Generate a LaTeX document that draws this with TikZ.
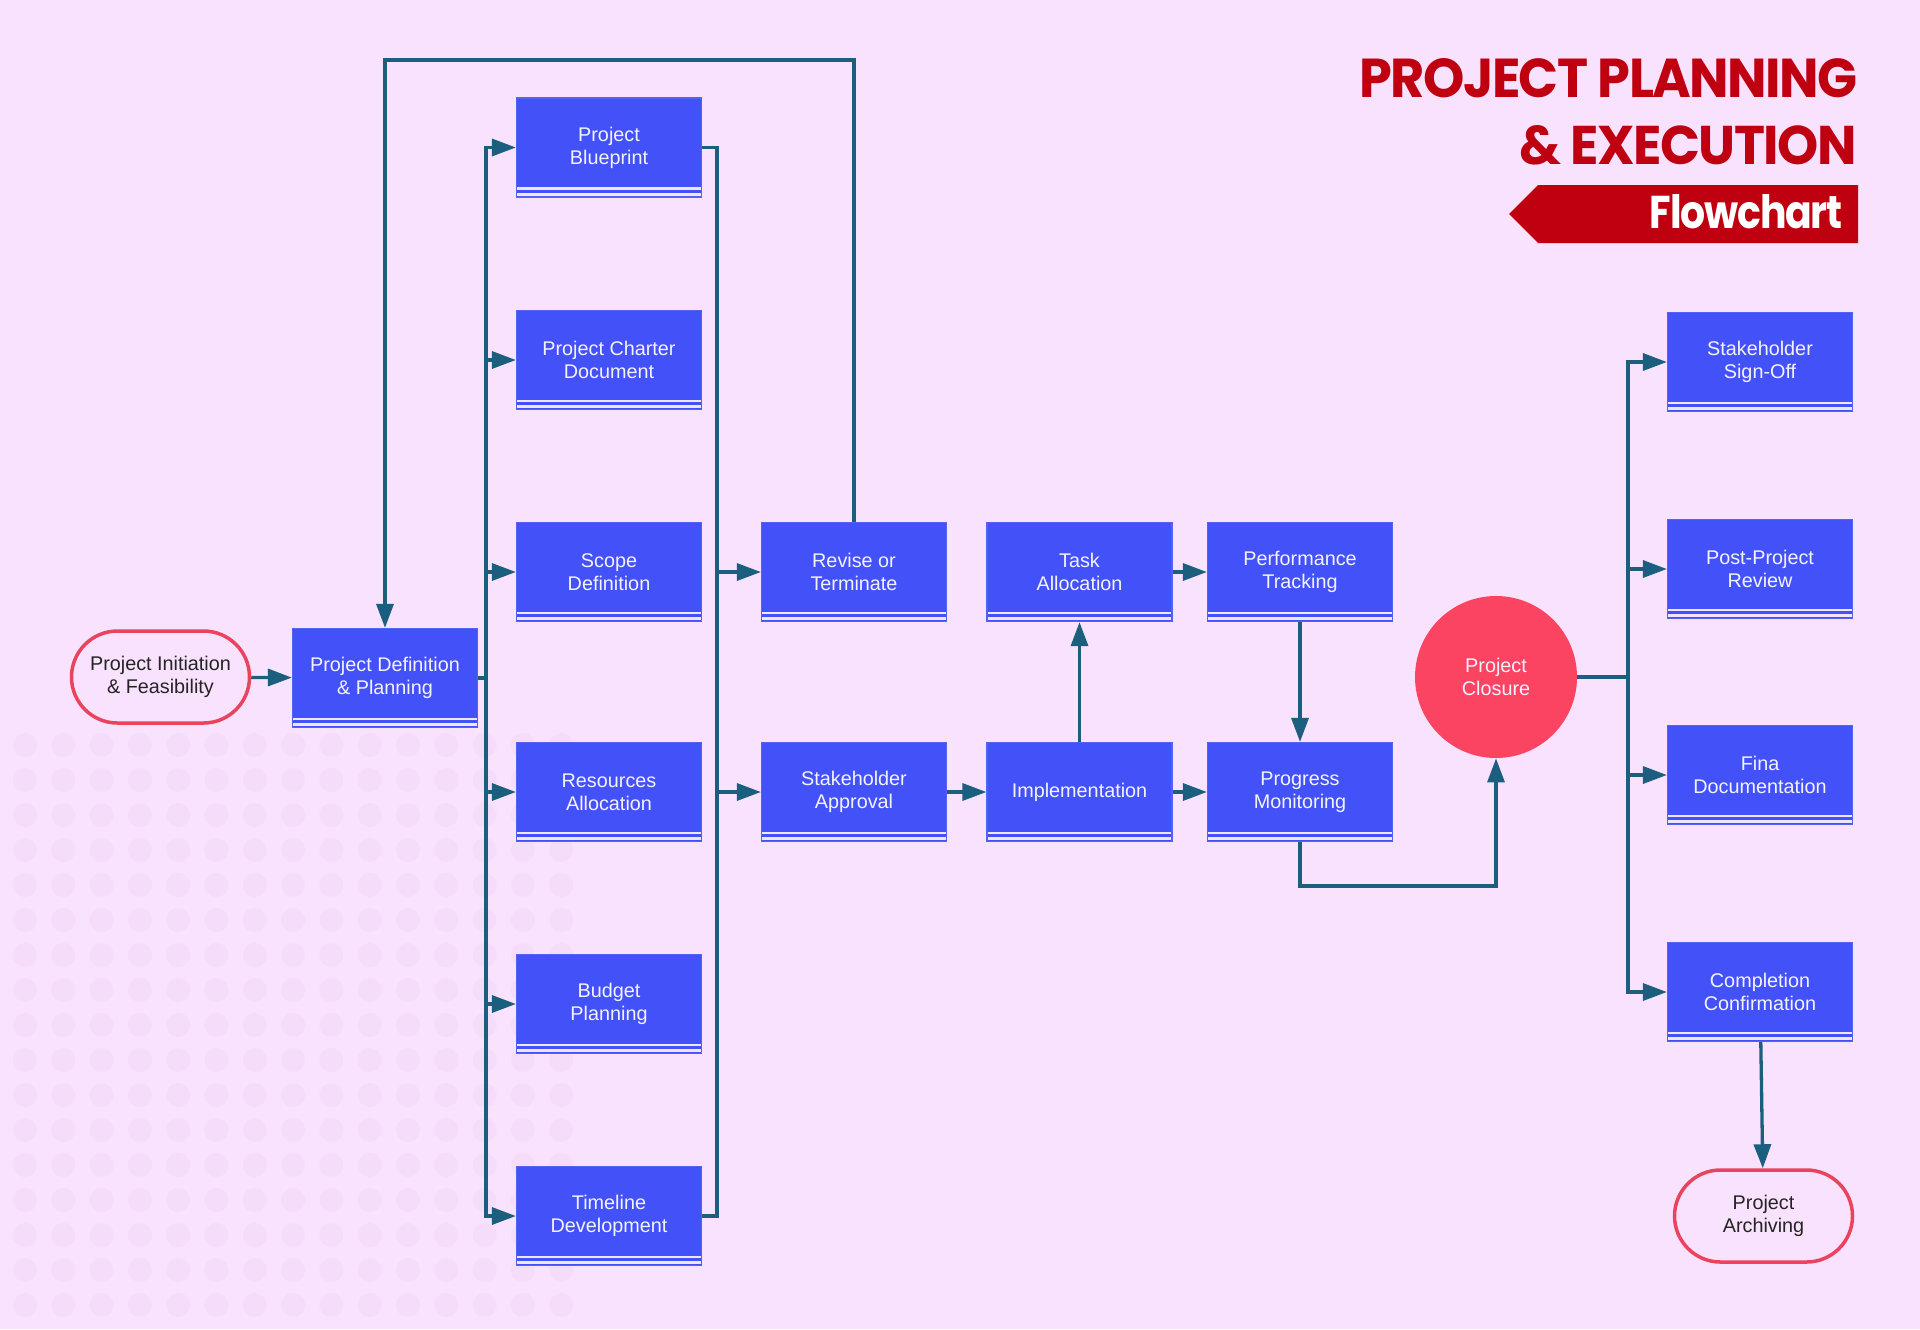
\documentclass[tikz,border=0pt]{standalone}
\usepackage{fontspec}
\usepackage{graphicx}
\setmainfont{Liberation Sans}
\newfontfamily\headfont{Poppins}[LetterSpace=-3]
\usetikzlibrary{arrows.meta,shapes.misc}

\definecolor{pagebg}{HTML}{F9E2FD}
\definecolor{dotpink}{HTML}{F6DCFB}
\definecolor{boxblue}{HTML}{4352F8}
\definecolor{boxedge}{HTML}{5462F2}
\definecolor{stripecol}{HTML}{EEE6FF}
\definecolor{boxtext}{HTML}{F4F2FF}
\definecolor{flowteal}{HTML}{1C5E7E}
\definecolor{pillred}{HTML}{E9435E}
\definecolor{closurered}{HTML}{FB4461}
\definecolor{titlered}{HTML}{BE0011}
\definecolor{darktext}{HTML}{242424}

\newcommand\boxfont{\fontsize{9.9}{11.4}\selectfont}

\tikzset{
  stripe/.style={draw=stripecol, line width=1.3pt},
  stepbox/.style={rectangle, draw=boxedge, line width=0.6pt, fill=boxblue,
    text=boxtext, minimum width=92.5pt, minimum height=49.5pt, inner sep=0pt,
    align=center, font=\boxfont,
    path picture={
      \draw[stripe] ([yshift=4.3pt]path picture bounding box.south west)
        -- ([yshift=4.3pt]path picture bounding box.south east);
      \draw[stripe] ([yshift=1.4pt]path picture bounding box.south west)
        -- ([yshift=1.4pt]path picture bounding box.south east);
    }},
  pill/.style={rounded rectangle, draw=pillred, line width=1.75pt, fill=pagebg,
    text=darktext, minimum width=89pt, minimum height=46pt, inner sep=0pt,
    align=center, font=\boxfont},
  hub/.style={circle, fill=closurered, text=boxtext, minimum size=81pt,
    inner sep=0pt, align=center, font=\boxfont},
  line/.style={draw=flowteal, line width=1.65pt},
  flow/.style={line, -{Triangle[length=12pt,width=8.5pt]}},
  headline/.style={anchor=base east, inner sep=0pt, text=titlered}
}

\begin{document}
\begin{tikzpicture}[x=0.5pt, y=-0.5pt]
  \fill[pagebg] (0,0) rectangle (1920,1329);
  \useasboundingbox (0,0) rectangle (1920,1329);
  % faint dot texture, lower left
  \foreach \i in {0,...,14}
    \foreach \j in {0,...,16}
      \fill[dotpink] (25+38.3*\i, 745+35*\j) circle[radius=6pt];

  % title
  \node[headline] (title1) at (1858,97)
    {\resizebox{249pt}{19.5pt}{\headfont\bfseries PROJECT PLANNING}};
  \node[headline] (title2) at (1857,164)
    {\resizebox{168.5pt}{19.5pt}{\headfont\bfseries \& EXECUTION}};
  \fill[titlered] (1509,214) -- (1538,185) -- (1858,185) -- (1858,243)
    -- (1538,243) -- cycle;
  \node[headline, text=white] (subtitle) at (1843,228)
    {\resizebox{96.5pt}{17pt}{\headfont\bfseries Flowchart}};

  % nodes
  \node[pill] (init) at (160.5,677) {Project Initiation\\\& Feasibility};
  \node[stepbox] (define) at (385,678) {Project Definition\\\& Planning};

  \node[stepbox] (blueprint) at (609,147.5) {Project\\Blueprint};
  \node[stepbox] (charter) at (609,360) {Project Charter\\Document};
  \node[stepbox] (scope) at (609,572) {Scope\\Definition};
  \node[stepbox] (resources) at (609,792) {Resources\\Allocation};
  \node[stepbox] (budget) at (609,1004) {Budget\\Planning};
  \node[stepbox] (timeline) at (609,1216) {Timeline\\Development};

  \node[stepbox] (revise) at (854,572) {Revise or\\Terminate};
  \node[stepbox] (approval) at (854,792) {Stakeholder\\Approval};
  \node[stepbox] (tasks) at (1079.5,572) {Task\\Allocation};
  \node[stepbox] (implement) at (1079.5,792) {Implementation};
  \node[stepbox] (perf) at (1300,572) {Performance\\Tracking};
  \node[stepbox] (progress) at (1300,792) {Progress\\Monitoring};

  \node[hub] (closure) at (1496,677) {Project\\Closure};

  \node[stepbox] (signoff) at (1760,362) {Stakeholder\\Sign-Off};
  \node[stepbox] (review) at (1760,569) {Post-Project\\Review};
  \node[stepbox] (findoc) at (1760,775) {Fina\\Documentation};
  \node[stepbox] (confirm) at (1760,992) {Completion\\Confirmation};
  \node[pill] (archive) at (1763.5,1216) {Project\\Archiving};

  % bus lines
  \coordinate (lbus) at (486,0);
  \coordinate (rbus) at (717,0);
  \coordinate (cbus) at (1628,0);
  \coordinate (looptop) at (0,60);

  % connectors
  \draw[flow] (init) -- (define);
  \draw[flow] (revise.north) -- (revise.north |- looptop) -| (define.north);

  \draw[flow] (define.east) -- (lbus |- define) |- (blueprint.west);
  \draw[flow] (define.east) -- (lbus |- define) |- (charter.west);
  \draw[flow] (define.east) -- (lbus |- define) |- (scope.west);
  \draw[flow] (define.east) -- (lbus |- define) |- (resources.west);
  \draw[flow] (define.east) -- (lbus |- define) |- (budget.west);
  \draw[flow] (define.east) -- (lbus |- define) |- (timeline.west);

  \draw[line] (blueprint.east) -| (rbus |- timeline) -- (timeline.east);
  \draw[flow] (rbus |- revise) -- (revise.west);
  \draw[flow] (rbus |- approval) -- (approval.west);

  \draw[flow] (approval) -- (implement);
  \draw[flow] (implement) -- (tasks);
  \draw[flow] (tasks) -- (perf);
  \draw[flow] (implement) -- (progress);
  \draw[flow] (perf) -- (progress);
  \draw[flow] (progress.south) -- ++(0,44) -| (closure.south);

  \draw[flow] (closure.east) -- (cbus |- closure) |- (signoff.west);
  \draw[flow] (closure.east) -- (cbus |- closure) |- (review.west);
  \draw[flow] (closure.east) -- (cbus |- closure) |- (findoc.west);
  \draw[flow] (closure.east) -- (cbus |- closure) |- (confirm.west);
  \draw[flow] (confirm) -- (archive);
\end{tikzpicture}
\end{document}
